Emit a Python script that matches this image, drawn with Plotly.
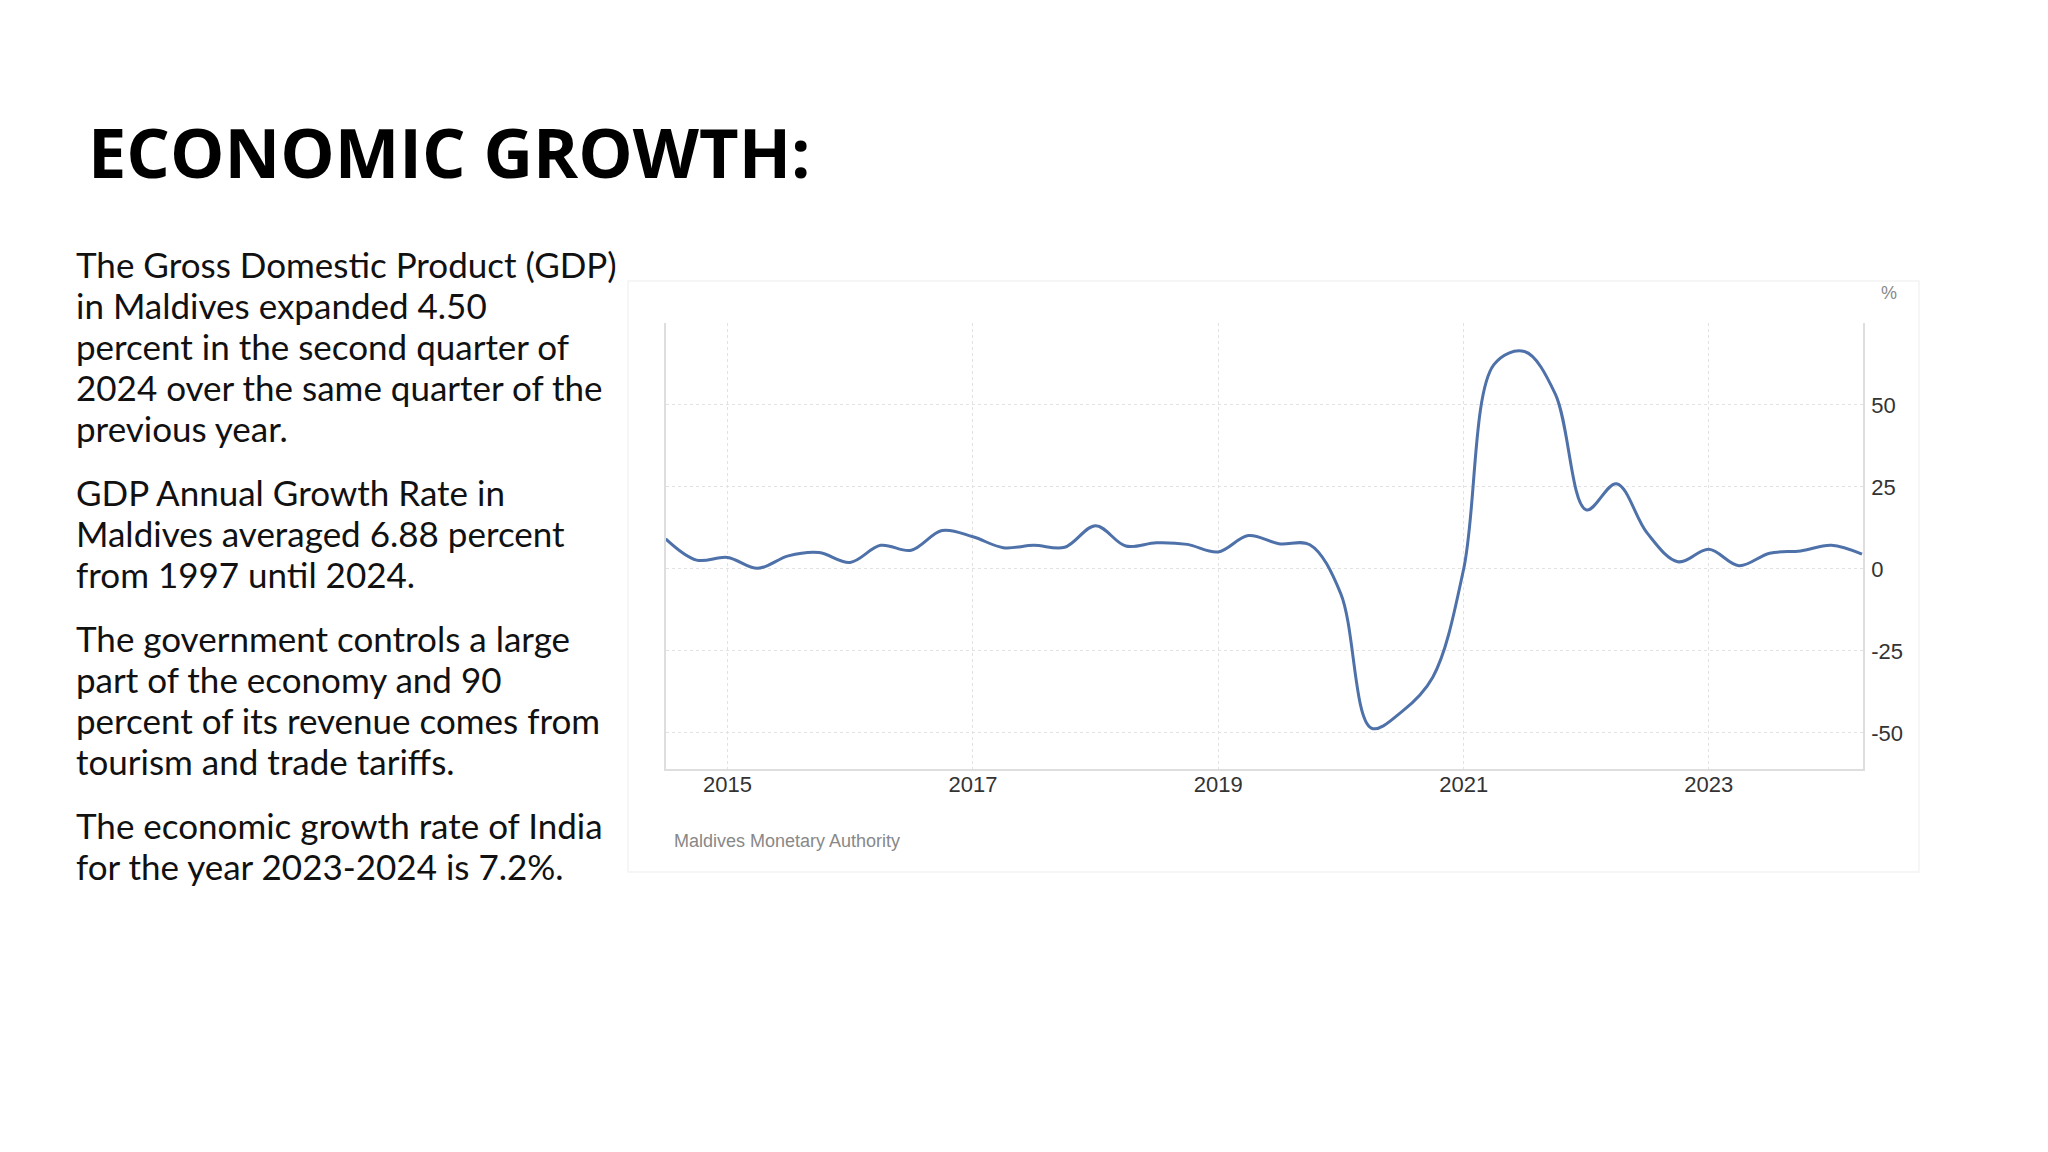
import plotly.graph_objects as go

W, H = 2048, 1152

# ---------------- data ----------------
quarters = [
    "2014-07-01", "2014-10-01",
    "2015-01-01", "2015-04-01", "2015-07-01", "2015-10-01",
    "2016-01-01", "2016-04-01", "2016-07-01", "2016-10-01",
    "2017-01-01", "2017-04-01", "2017-07-01", "2017-10-01",
    "2018-01-01", "2018-04-01", "2018-07-01", "2018-10-01",
    "2019-01-01", "2019-04-01", "2019-07-01", "2019-10-01",
    "2020-01-01", "2020-04-01", "2020-07-01", "2020-10-01",
    "2021-01-01", "2021-04-01", "2021-07-01", "2021-10-01",
    "2022-01-01", "2022-04-01", "2022-07-01", "2022-10-01",
    "2023-01-01", "2023-04-01", "2023-07-01", "2023-10-01",
    "2024-01-01", "2024-04-01",
]
gdp_growth = [
    9.2, 2.7,
    3.5, 0.2, 4.0, 5.0,
    2.0, 7.2, 5.7, 11.7,
    9.8, 6.5, 7.2, 6.6,
    13.2, 7.0, 8.0, 7.5,
    5.2, 10.2, 7.7, 7.4,
    -7.5, -48.5, -43.5, -33.0,
    0.0, 62.3, 66.3, 53.3,
    18.0, 26.0, 11.0, 2.2,
    6.0, 1.0, 4.8, 5.5,
    7.2, 4.5,
]
x_tick_vals = ["2015-01-01", "2017-01-01", "2019-01-01", "2021-01-01", "2023-01-01"]
x_tick_text = ["2015", "2017", "2019", "2021", "2023"]
y_tick_vals = [-50, -25, 0, 25, 50, 75]
y_tick_text = ["-50", "-25", "0", "25", "50", ""]

title_text = "ECONOMIC GROWTH:"
body_lines = [
    "The Gross Domestic Product (GDP)",
    "in Maldives expanded 4.50",
    "percent in the second quarter of",
    "2024 over the same quarter of the",
    "previous year.",
    "GDP Annual Growth Rate in",
    "Maldives averaged 6.88 percent",
    "from 1997 until 2024.",
    "The government controls a large",
    "part of the economy and 90",
    "percent of its revenue comes from",
    "tourism and trade tariffs.",
    "The economic growth rate of India",
    "for the year 2023-2024 is 7.2%.",
]
body_line_y = [264, 305, 346, 387, 428, 492, 533, 574, 638, 679, 720, 761, 825, 866]
source_text = "Maldives Monetary Authority"
unit_text = "%"

# ---------------- figure ----------------
fig = go.Figure()
fig.add_trace(go.Scatter(
    x=quarters, y=gdp_growth, mode="lines",
    line=dict(color="#4d71a8", width=3, shape="spline", smoothing=1.0),
    hoverinfo="x+y", showlegend=False,
))

x0, x1 = 666 / W, 1863 / W
y0, y1 = 1 - 769 / H, 1 - 323 / H
grid_col = "#e2e2e2"
axis_col = "#dedede"

fig.update_layout(
    width=W, height=H, autosize=False,
    margin=dict(l=0, r=0, t=0, b=0),
    paper_bgcolor="white", plot_bgcolor="white",
    xaxis=dict(
        domain=[x0, x1], type="date",
        range=["2014-07-02", "2024-04-04"],
        tickvals=x_tick_vals, ticktext=x_tick_text,
        showgrid=True, gridcolor=grid_col, griddash="dot", gridwidth=1,
        showline=True, linecolor=axis_col, linewidth=2,
        ticks="", zeroline=False, ticklabelstandoff=-5,
        tickfont=dict(family="Liberation Sans, Arial", size=22, color="#333333"),
    ),
    yaxis=dict(
        domain=[y0, y1], side="right",
        range=[-61, 75],
        tickvals=y_tick_vals, ticktext=y_tick_text,
        showgrid=True, gridcolor=grid_col, griddash="dot", gridwidth=1,
        showline=True, mirror=True, linecolor=axis_col, linewidth=1.5,
        ticks="", zeroline=False, ticklabelstandoff=2,
        tickfont=dict(family="Liberation Sans, Arial", size=22, color="#333333"),
    ),
    font=dict(family="Lato"),
)

# faint frame around the embedded chart
fig.add_shape(type="rect", xref="paper", yref="paper",
              x0=628 / W, x1=1919 / W, y0=1 - 872 / H, y1=1 - 281 / H,
              line=dict(color="#f4f4f4", width=1.5), fillcolor="rgba(0,0,0,0)", layer="below")

# title
fig.add_annotation(text=f"<b>{title_text}</b>", xref="paper", yref="paper",
                   x=86 / W, y=1 - 152 / H, xanchor="left", yanchor="middle",
                   showarrow=False, font=dict(family="Open Sans", size=68.5, color="#000000"))

# body text
for line, yy in zip(body_lines, body_line_y):
    fig.add_annotation(text=line, xref="paper", yref="paper",
                       x=74 / W, y=1 - yy / H, xanchor="left", yanchor="middle",
                       showarrow=False, font=dict(family="Lato", size=35, color="#111111"))

# unit and source labels
fig.add_annotation(text=unit_text, xref="paper", yref="paper",
                   x=1889 / W, y=1 - 293 / H, xanchor="center", yanchor="middle",
                   showarrow=False, font=dict(family="Liberation Sans, Arial", size=18, color="#888888"))
fig.add_annotation(text=source_text, xref="paper", yref="paper",
                   x=672 / W, y=1 - 841 / H, xanchor="left", yanchor="middle",
                   showarrow=False, font=dict(family="Liberation Sans, Arial", size=18, color="#888888"))

fig.write_html("out.html")
